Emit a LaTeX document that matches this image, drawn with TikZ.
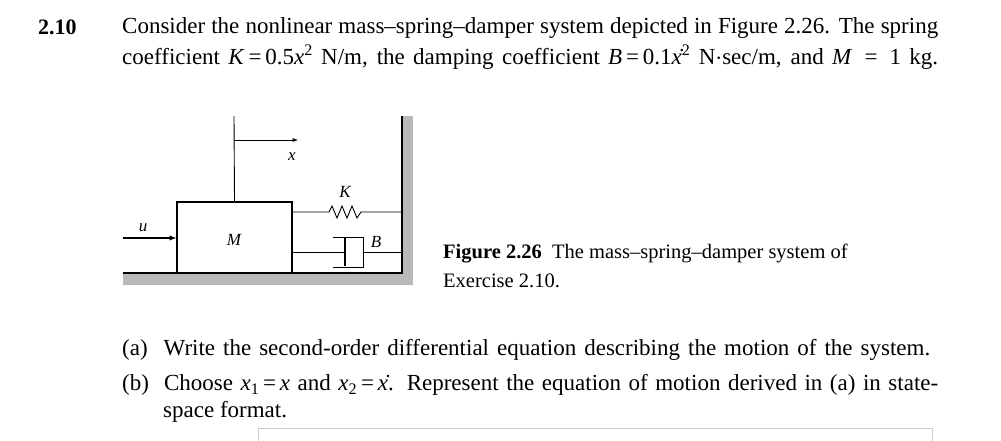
\documentclass[tikz,border=0pt]{standalone}
\usepackage{fontspec}
\setmainfont{Liberation Serif}
\newcommand{\vi}[1]{\textit{#1}}
\newcommand{\dx}{\.{\textit{x}}}
\begin{document}
\begin{tikzpicture}[x=1pt,y=-1pt,
  body/.style={line width=1.3pt},
  thin/.style={line width=0.9pt},
  lbl/.style={font=\fontsize{17}{17}\selectfont\itshape},
  txt/.style={anchor=west,inner sep=0,font=\fontsize{23}{26}\selectfont}]
\useasboundingbox (0,0) rectangle (1001,441);
% title
\node[txt,font=\fontsize{22}{24}\selectfont\bfseries] (num) at (38,27) {2.10};
\node[txt] (l1) at (122,28) {\hbox to 816pt{Consider the nonlinear mass--spring--damper system depicted in Figure 2.26. The spring}};
\node[txt] (l2) at (122,57) {\hbox to 816pt{coefficient \vi{K}\,=\,0.5\vi{x}\textsuperscript{2} N/m, the damping coefficient \vi{B}\,=\,0.1\dx\textsuperscript{2} N$\cdot$sec/m, and \vi{M}\ \,=\ \,1 kg.}};
% shadows
\fill[gray!55] (123,273) rectangle (413,285);
\fill[gray!55] (402,116) rectangle (413,285);
% ground and wall
\draw[body] (123,273) -- (402,273) -- (402,116);
% mass
\node[draw,body,minimum width=115pt,minimum height=71pt,inner sep=0] (m) at (234.5,237.5) {};
\node[lbl] (mlab) at (234,240) {M};
% stem and x arrow
\coordinate (st) at (234,116);
\coordinate (xa) at (234,140);
\coordinate (xb) at (298,140);
\draw[thin] (m.north) -- (st);
\draw[thin,-latex] (xa) -- (xb);
\node[lbl] (xlab) at (292,157) {x};
% u arrow
\coordinate (u0) at (123,238);
\draw[body,-latex] (u0) -- (m.west |- u0);
\node[lbl] (ulab) at (143,228) {u};
% spring
\coordinate (s0) at (292,212);
\coordinate (s1) at (402,212);
\draw[thin] (s0) -- (329,212) -- (332,206) -- (337,218) -- (342,206) -- (347,218) -- (352,206) -- (357,218) -- (361,212) -- (s1);
\node[lbl] (klab) at (345,192) {K};
% damper
\coordinate (d0) at (292,252);
\coordinate (d1) at (402,252);
\draw[thin] (d0) -- (345,252);
\draw[body] (345,238) -- (345,266);
\draw[thin] (333,237) -- (363,237) -- (363,267) -- (333,267);
\draw[thin] (363,252) -- (d1);
\node[lbl] (blab) at (376,242) {B};
% caption
\node[txt,font=\fontsize{20.5}{22}\selectfont] (cap1) at (443,254) {\textbf{Figure 2.26}\ \ The mass--spring--damper system of};
\node[txt,font=\fontsize{20.5}{22}\selectfont] (cap2) at (443,281) {Exercise 2.10.};
% questions
\node[txt] (qa) at (122,350) {\hbox to 808pt{(a)\ \ Write the second-order differential equation describing the motion of the system.}};
\node[txt] (qb) at (122,385) {\hbox to 816pt{(b)\ \ Choose \vi{x}\textsubscript{1}\,=\,\vi{x} and \vi{x}\textsubscript{2}\,=\,\dx. Represent the equation of motion derived in (a) in state-}};
\node[txt] (qc) at (163,412) {space format.};
\draw[gray!40,line width=0.8pt] (258,445) -- (258,428) -- (932,428) -- (932,445);
\end{tikzpicture}
\end{document}
